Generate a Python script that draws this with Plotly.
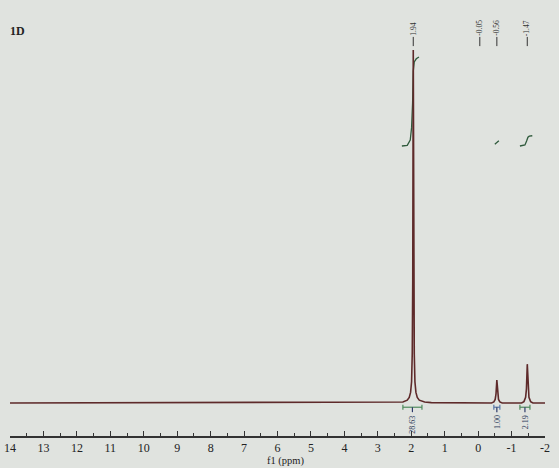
import plotly.graph_objects as go

# ---- data ----
spec_ppm = [14.0, 2.40, 2.25, 2.12, 2.06, 2.02, 1.99, 1.97, 1.955, 1.94, 1.925, 1.91, 1.89, 1.86, 1.82, 1.76, 1.60, 1.40,
            -0.40, -0.47, -0.51, -0.535, -0.56, -0.585, -0.61, -0.65, -0.72,
            -1.30, -1.37, -1.42, -1.445, -1.47, -1.495, -1.52, -1.57, -1.64, -2.0]
spec_int = [0.0, 0.1, 0.3, 0.8, 1.6, 3.0, 6.0, 14.0, 35.0, 100.0, 35.0, 14.0, 6.0, 3.0, 1.6, 0.8, 0.3, 0.1,
            0.0, 0.3, 1.0, 2.6, 6.5, 2.6, 1.0, 0.3, 0.0,
            0.0, 0.4, 1.6, 4.0, 11.0, 4.0, 1.6, 0.4, 0.0, 0.0]

peak_labels = ["1.94", "-0.05", "-0.56", "-1.47"]
peak_label_ppm = [1.94, -0.05, -0.56, -1.47]

integral_values = ["28.63", "1.00", "2.19"]
integral_from = [2.25, -0.47, -1.25]
integral_to = [1.68, -0.65, -1.55]
integral_colors = ["#4f8a5c", "#5a78a8", "#4f8a5c"]

int1_ppm = [2.28, 2.12, 2.03, 1.99, 1.96, 1.94, 1.91, 1.85, 1.77]
int1_val = [72.8, 73.0, 74.5, 78.0, 85.0, 94.0, 96.6, 97.5, 98.0]
int2_ppm = [-0.50, -0.56, -0.62]
int2_val = [73.3, 73.8, 74.3]
int3_ppm = [-1.25, -1.40, -1.45, -1.49, -1.53, -1.62]
int3_val = [72.8, 73.1, 74.2, 75.3, 75.6, 75.7]

x_ticks = list(range(14, -3, -1))

bg = "#e0e3df"
serif = "Liberation Serif, Times New Roman, serif"

fig = go.Figure()
for px_, pv in [(int1_ppm, int1_val), (int2_ppm, int2_val), (int3_ppm, int3_val)]:
    fig.add_trace(go.Scatter(x=px_, y=pv, mode="lines", line=dict(color="#2f5a3c", width=1.3),
                             hoverinfo="skip", showlegend=False))
fig.add_trace(go.Scatter(x=spec_ppm, y=spec_int, mode="lines",
                         line=dict(color="#5e2a2a", width=1.6), showlegend=False))

shapes = []
annotations = []
# peak labels with leader lines
for lab, p in zip(peak_labels, peak_label_ppm):
    shapes.append(dict(type="line", xref="x", yref="y", x0=p, x1=p, y0=101.1, y1=103.7,
                       line=dict(color="#333", width=1)))
    annotations.append(dict(x=p, y=103.7, xref="x", yref="y", text=lab, textangle=-90,
                            showarrow=False, xanchor="center", yanchor="bottom", borderpad=0,
                            font=dict(family=serif, size=7.5, color="#333")))
# integral brackets
for val, a, b, c in zip(integral_values, integral_from, integral_to, integral_colors):
    m = (a + b) / 2
    shapes.append(dict(type="line", xref="x", yref="y", x0=a, x1=b, y0=-1.2, y1=-1.2,
                       line=dict(color=c, width=1.2)))
    for e in (a, b):
        shapes.append(dict(type="line", xref="x", yref="y", x0=e, x1=e, y0=-0.5, y1=-1.9,
                           line=dict(color=c, width=1.2)))
    shapes.append(dict(type="line", xref="x", yref="y", x0=m, x1=m, y0=-1.2, y1=-2.6,
                       line=dict(color="#2d3a6a", width=1.2)))
    annotations.append(dict(x=m, y=-2.9, xref="x", yref="y", text=val, textangle=-90,
                            showarrow=False, xanchor="center", yanchor="top",
                            font=dict(family=serif, size=8, color="#2d3a5a")))

annotations.append(dict(x=0.0, y=1.0, xref="paper", yref="paper", text="<b>1D</b>", showarrow=False,
                        xanchor="left", yanchor="top", xshift=-2, yshift=-22,
                        font=dict(family=serif, size=12, color="#222")))
annotations.append(dict(x=0.515, y=0.0, xref="paper", yref="paper", text="f1 (ppm)", showarrow=False,
                        xanchor="center", yanchor="bottom", yshift=-32, borderpad=0,
                        font=dict(family=serif, size=10.5, color="#222")))

fig.update_layout(
    width=559, height=468,
    margin=dict(l=10, r=14, t=0, b=32),
    paper_bgcolor=bg, plot_bgcolor=bg,
    shapes=shapes, annotations=annotations,
    xaxis=dict(range=[14, -2], tickvals=x_ticks, ticktext=[str(t) for t in x_ticks],
               showgrid=False, zeroline=False, showline=True, linecolor="#333", linewidth=1.5,
               ticks="inside", ticklen=5, tickcolor="#333", tickwidth=1.2,
               minor=dict(dtick=0.5, tick0=0, ticks="inside", ticklen=3, tickcolor="#333"),
               ticklabeloverflow="allow", ticklabelstandoff=0,
               tickfont=dict(family=serif, size=12, color="#222")),
    yaxis=dict(range=[-9.35, 114.16], visible=False, showgrid=False, zeroline=False),
)

fig.write_html("out.html", config={"displayModeBar": False},
               post_script="document.body.style.margin='0';document.body.style.padding='0';"
                           "document.body.style.overflow='hidden';")
